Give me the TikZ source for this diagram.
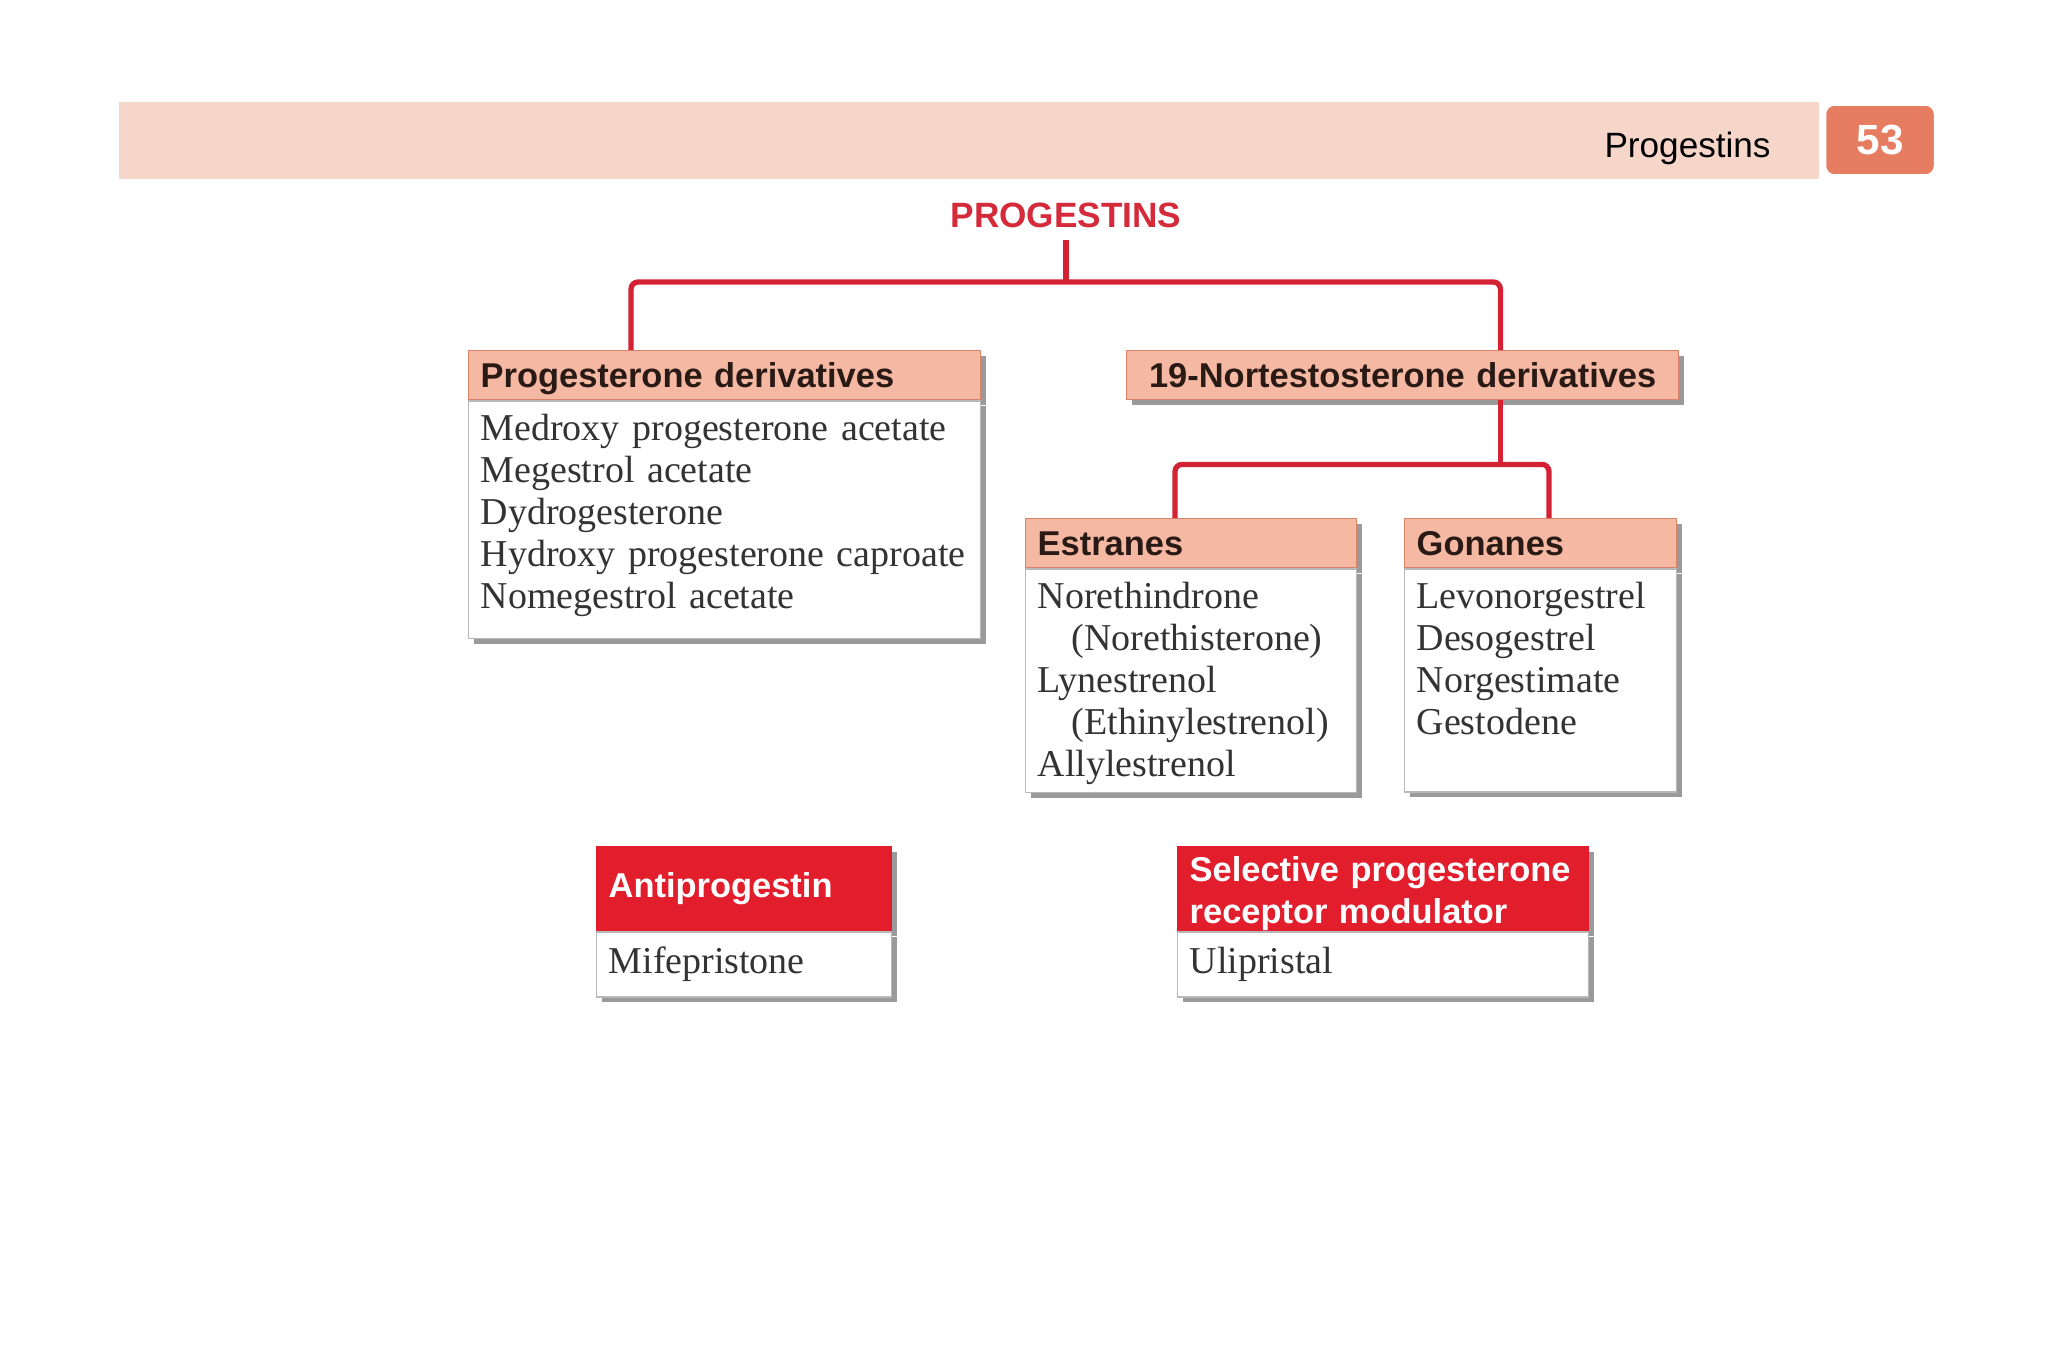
\documentclass[tikz,border=0pt]{standalone}
\usepackage{fontspec}
\setmainfont{Liberation Serif}
\setsansfont{Liberation Sans}
\usetikzlibrary{shadows}
\newcommand\tailgap[1]{\par\vspace{#1}\hrule height 0pt}

\begin{document}
\begin{tikzpicture}[
    hdrfont/.style={font=\sffamily\bfseries\fontsize{9.8}{11.95}\selectfont},
    bodyfont/.style={font=\fontsize{10.8}{11.95}\selectfont},
    boxshadow/.style={drop shadow={shadow xshift=0.05cm,shadow yshift=-0.05cm,fill=shadowgray,opacity=1}},
    subhead/.style={hdrfont, draw=headline, fill=headfill, text=headtext, boxshadow, anchor=north west,
        minimum height=0.49cm, inner xsep=0.12cm, inner ysep=0.05cm, text height=7pt, text depth=0pt,
        text width=#1, align=left},
    redhead/.style={hdrfont, draw=redfill, fill=redfill, text=white, boxshadow, anchor=north west,
        minimum height=0.84cm, inner xsep=0.12cm, inner ysep=0.05cm, text width=#1, align=left},
    drugs/.style={bodyfont, draw=bodyline, fill=white, text=bodytext, boxshadow, anchor=north west,
        inner xsep=0.12cm, inner ysep=0.13cm, text width=#1, align=left},
    branch/.style={draw=treered, line width=1.5pt, rounded corners=2pt}
    ]

                            \definecolor{barpeach}{HTML}{F7D6CA}
                            \definecolor{pagebox}{HTML}{E67C60}
                            \definecolor{titlered}{HTML}{D42A3A}
                            \definecolor{treered}{HTML}{D42235}
                            \definecolor{headfill}{HTML}{F5B8A3}
                            \definecolor{headline}{HTML}{D9826A}
                            \definecolor{headtext}{HTML}{2A1A15}
                            \definecolor{redfill}{HTML}{E21E2D}
                            \definecolor{bodyline}{HTML}{B8B8B8}
                            \definecolor{bodytext}{HTML}{333333}
                            \definecolor{shadowgray}{HTML}{9A9A9A}
                            \useasboundingbox (0,0) rectangle (20.48,-13.48);
                            \fill [white] (0,0) rectangle (20.48,-13.48);
                            \fill [barpeach] (1.19,-1.02) rectangle (18.19,-1.79);
                            \node [anchor=base east, font=\sffamily\fontsize{10}{12}\selectfont] (runhead) at (17.83,-1.57) {Progestins};
                            \node [fill=pagebox, draw=white, line width=1pt, rounded corners=0.1cm, minimum width=1.11cm, minimum height=0.72cm,
                                text=white, font=\sffamily\bfseries\fontsize{12}{14}\selectfont] (pageno) at (18.80,-1.40) {53};
                            \node [font=\sffamily\bfseries\fontsize{10}{12}\selectfont, text=titlered] (prog) at (10.66,-2.15) {PROGESTINS};
                            \coordinate (jn) at (10.66,-2.82);
                            \node [subhead=4.88cm] (pdh) at (4.68,-3.50) {Progesterone derivatives};
                            \node [drugs=4.88cm] (pdb) at (pdh.south west) {Medroxy progesterone acetate\\ Megestrol acetate\\ Dydrogesterone\\
                                Hydroxy progesterone caproate\\ Nomegestrol acetate\tailgap{0.09cm}};
                            \node [subhead=5.28cm, align=center] (nth) at (11.26,-3.50) {19-Nortestosterone derivatives};
                            \path ([xshift=-1.79cm]nth.south east) ++(0,-0.64) coordinate (jn2);
                            \node [subhead=3.07cm] (esh) at (10.25,-5.18) {Estranes};
                            \node [drugs=3.07cm] (esb) at (esh.south west) {Norethindrone\\ \hspace*{0.34cm}(Norethisterone)\\ Lynestrenol\\
                                \hspace*{0.34cm}(Ethinylestrenol)\\ Allylestrenol\tailgap{-0.05cm}};
                            \node [subhead=2.48cm] (goh) at (14.04,-5.18) {Gonanes};
                            \node [drugs=2.48cm] (gob) at (goh.south west) {Levonorgestrel\\ Desogestrel\\ Norgestimate\\ Gestodene\tailgap{0.44cm}};
                            \node [redhead=2.71cm] (aph) at (5.96,-8.46) {Antiprogestin};
                            \node [drugs=2.71cm, minimum height=0.65cm, inner ysep=0.05cm] (apb) at (aph.south west) {Mifepristone};
                            \node [redhead=3.87cm] (sph) at (11.77,-8.46) {Selective progesterone\\ receptor modulator\tailgap{-0.1cm}};
                            \node [drugs=3.87cm, minimum height=0.65cm, inner ysep=0.05cm] (spb) at (sph.south west) {Ulipristal};
                            \draw [branch] (prog.south) -- (jn);
                            \draw [branch] ([xshift=1.63cm]pdh.north west) |- (jn) -| ([xshift=-1.79cm]nth.north east);
                            \draw [branch] ([xshift=-1.79cm]nth.south east) -- (jn2);
                            \draw [branch] ([xshift=1.50cm]esh.north west) |- (jn2) -| ([xshift=1.45cm]goh.north west);
                        \end{tikzpicture}
\end{document}
